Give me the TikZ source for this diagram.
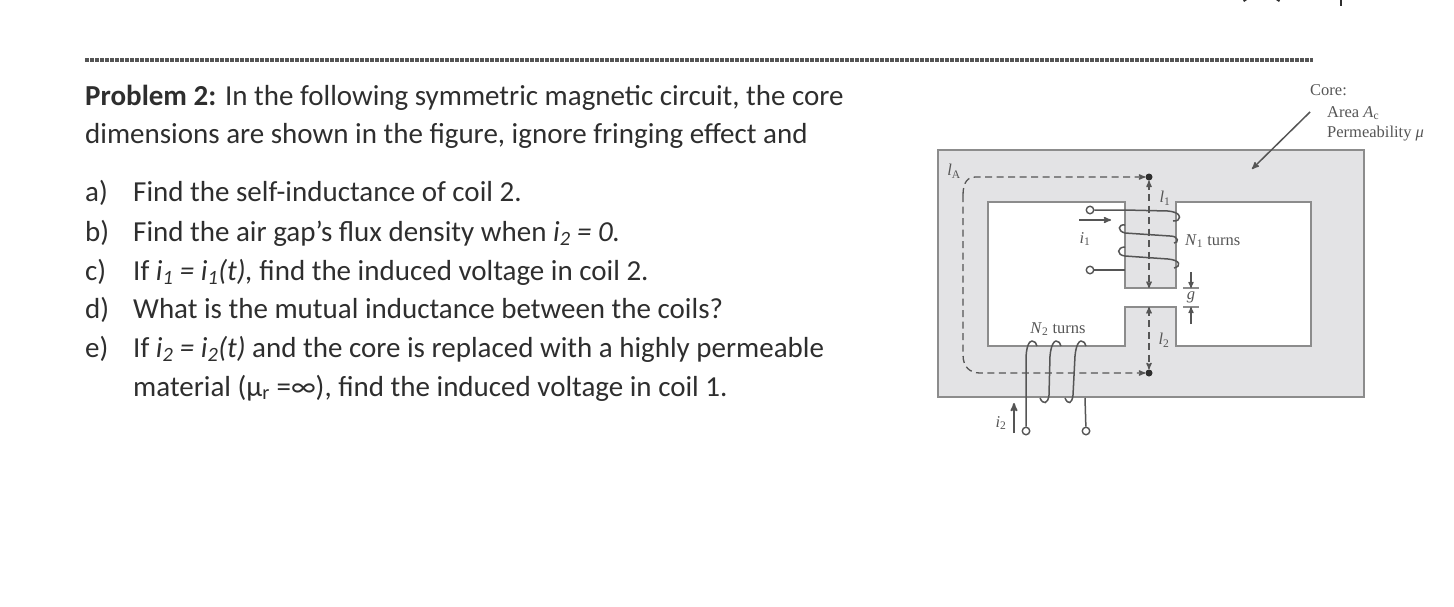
\documentclass[tikz,border=0pt]{standalone}
\usepackage{fontspec}
\setmainfont{Carlito}
\newfontfamily\figfont{Liberation Serif}
\usepackage{xcolor}
\usepackage{tikz}
\usetikzlibrary{arrows}
\usetikzlibrary{positioning}
\usetikzlibrary{calc}
\definecolor{coregray}{HTML}{E3E3E5}
\definecolor{edgegray}{HTML}{8C8C8C}
\definecolor{wiregray}{HTML}{555555}
\definecolor{inkgray}{HTML}{2E2E2E}
\tikzset{
  prob_t/.style = {anchor=base west, inner sep=0pt, text=inkgray,
    font=\fontsize{29}{33}\selectfont},% problem text
  fig_t/.style = {inner sep=0pt, text=wiregray, font=\figfont\fontsize{16.5}{18}\selectfont},% figure labels
  wire/.style = {draw=wiregray, line width=1.5pt},
  meanpath/.style = {draw=wiregray, line width=1.3pt, dash pattern=on 7pt off 4.5pt},
  term/.style = {circle, draw=wiregray, fill=white, line width=1.4pt,
    inner sep=0pt, minimum size=7.5pt},
  pt_dot/.style = {circle, fill=inkgray, inner sep=0pt, minimum size=7pt}
}
\begin{document}
\begin{tikzpicture}[x=1pt,y=-1pt,>=stealth']
\useasboundingbox (0,0) rectangle (1454,606);
% separator and the cut off marks on top
\coordinate (sepl) at (85,60);
\coordinate (sepr) at (1313,60);
\draw [wiregray, line width=3.2pt, dash pattern=on 3.6pt off 1.4pt] (sepl) -- (sepr);
\coordinate (markt) at (1341,0);
\coordinate (markb) at (1341,6);
\draw [inkgray, line width=1.4pt] (markt) -- (markb);
\fill [inkgray] (1243,0) -- (1247,0) -- (1244,2) -- cycle;
\fill [inkgray] (1276,0) -- (1280,0) -- (1279,2) -- cycle;
% problem text
\node [prob_t] (head) at (85,105) {\textbf{Problem 2:} In the following symmetric magnetic circuit, the core};
\node [prob_t] (head2) at (85,143) {dimensions are shown in the figure, ignore fringing effect and};
\node [prob_t] (la) at (85,201) {a)};
\node [prob_t] (ta) at (133,201) {Find the self-inductance of coil 2.};
\node [prob_t] (lb) at (85,241) {b)};
\node [prob_t] (tb) at (133,241) {Find the air gap’s flux density when \textit{i\textsubscript{2} = 0.}};
\node [prob_t] (lc) at (85,280) {c)};
\node [prob_t] (tc) at (133,280) {If \textit{i\textsubscript{1} = i\textsubscript{1}(t),} find the induced voltage in coil 2.};
\node [prob_t] (ld) at (85,318) {d)};
\node [prob_t] (td) at (133,318) {What is the mutual inductance between the coils?};
\node [prob_t] (le) at (85,357) {e)};
\node [prob_t] (te) at (133,357) {If \textit{i\textsubscript{2} = i\textsubscript{2}(t)} and the core is replaced with a highly permeable};
\node [prob_t] (tf) at (133,396) {material (µ\textsubscript{r} =∞), find the induced voltage in coil 1.};
% core
\filldraw [fill=coregray, draw=edgegray, line width=2pt, even odd rule]
  (938,150) rectangle (1364,397)
  (988,202) -- (1125,202) -- (1125,288) -- (1176,288) -- (1176,202) -- (1311,202)
  -- (1311,346) -- (1176,346) -- (1176,307) -- (1125,307) -- (1125,346) -- (988,346) -- cycle;
% mean path
\node [pt_dot] (dott) at (1149,177) {};
\node [pt_dot] (dotb) at (1149,373) {};
\coordinate (gapt) at (1149,288);
\coordinate (gapb) at (1149,307);
\draw [meanpath, ->] (963,195) .. controls (963,182) and (968,177) .. (975,177) -- (dott);
\draw [meanpath, ->] (963,195) -- (963,355) .. controls (963,367) and (970,373) .. (980,373) -- (dotb);
\draw [meanpath, <->] (dott) -- (gapt);
\draw [meanpath, <->] (gapb) -- (dotb);
\node [fig_t] (la_l) at (954,171) {\textit{l}\textsubscript{A}};
\node [fig_t] (l1_l) at (1165,198) {\textit{l}\textsubscript{1}};
\node [fig_t] (l2_l) at (1164,340) {\textit{l}\textsubscript{2}};
% coil 1
\node [term] (t1a) at (1090,210) {};
\node [term] (t1b) at (1090,270) {};
\coordinate (c1b) at (1125,270);
\draw [wire] (t1b) -- (c1b);
\draw [wire] (t1a) -- (1125,210) -- (1168,211) .. controls (1178,212) and (1182,216) .. (1178,220) .. controls (1177,221) and (1175,221) .. (1173,221);
\draw [wire] (1125,225) .. controls (1118,224) and (1117,231) .. (1125,233) -- (1170,236) .. controls (1179,236) and (1179,243) .. (1174,243);
\draw [wire] (1125,247) .. controls (1117,247) and (1116,255) .. (1125,256) -- (1168,259) .. controls (1180,260) and (1182,266) .. (1174,268);
\coordinate (i1s) at (1079,220);
\coordinate (i1e) at (1111,220);
\draw [wire, ->] (i1s) -- (i1e);
\node [fig_t] (i1_l) at (1085,239) {\textit{i}\textsubscript{1}};
\node [fig_t, anchor=west] (n1_l) at (1185,241) {\textit{N}\textsubscript{1} turns};
% coil 2
\node [term] (t2a) at (1026,431) {};
\node [term] (t2b) at (1086,431) {};
\coordinate (c2b) at (1085,398);
\draw [wire] (t2b) -- (c2b);
\draw [wire] (t2a) -- (1026,360) .. controls (1026,347) and (1029,341) .. (1032,341) .. controls (1035,341) and (1036,343) .. (1037,346);
\draw [wire] (1040,398) .. controls (1043,405) and (1048,404) .. (1049,395) -- (1050,356) .. controls (1051,345) and (1054,341) .. (1056,341) .. controls (1059,341) and (1060,343) .. (1061,346);
\draw [wire] (1065,398) .. controls (1068,405) and (1072,404) .. (1073,395) -- (1075,356) .. controls (1076,345) and (1079,341) .. (1081,341) .. controls (1084,341) and (1085,343) .. (1086,346);
\coordinate (i2s) at (1014,433);
\coordinate (i2e) at (1014,403);
\draw [wire, line width=1.8pt, ->] (i2s) -- (i2e);
\node [fig_t] (i2_l) at (1001,423) {\textit{i}\textsubscript{2}};
\node [fig_t] (n2_l) at (1058,329) {\textit{N}\textsubscript{2} turns};
% gap
\coordinate (g1l) at (1183,288);
\coordinate (g1r) at (1199,288);
\coordinate (g2l) at (1183,307);
\coordinate (g2r) at (1199,307);
\coordinate (g1s) at (1191,272);
\coordinate (g1e) at (1191,288);
\coordinate (g2s) at (1191,324);
\coordinate (g2e) at (1191,307);
\draw [edgegray, line width=1.2pt] (g1l) -- (g1r);
\draw [edgegray, line width=1.2pt] (g2l) -- (g2r);
\draw [wire, line width=1.2pt, ->] (g1s) -- (g1e);
\draw [wire, line width=1.2pt, ->] (g2s) -- (g2e);
\node [fig_t] (g_l) at (1191,297) {\textit{g}};
% core label
\node [fig_t, anchor=west] (core_l) at (1310,90) {Core:};
\node [fig_t, anchor=west] (area_l) at (1327,113) {Area \textit{A}\textsubscript{c}};
\node [fig_t, anchor=west] (perm_l) at (1327,134) {Permeability \textit{μ}};
\coordinate (cores) at (1310,112);
\coordinate (coree) at (1252,169);
\draw [wire, ->] (cores) -- (coree);
\end{tikzpicture}
\end{document}
